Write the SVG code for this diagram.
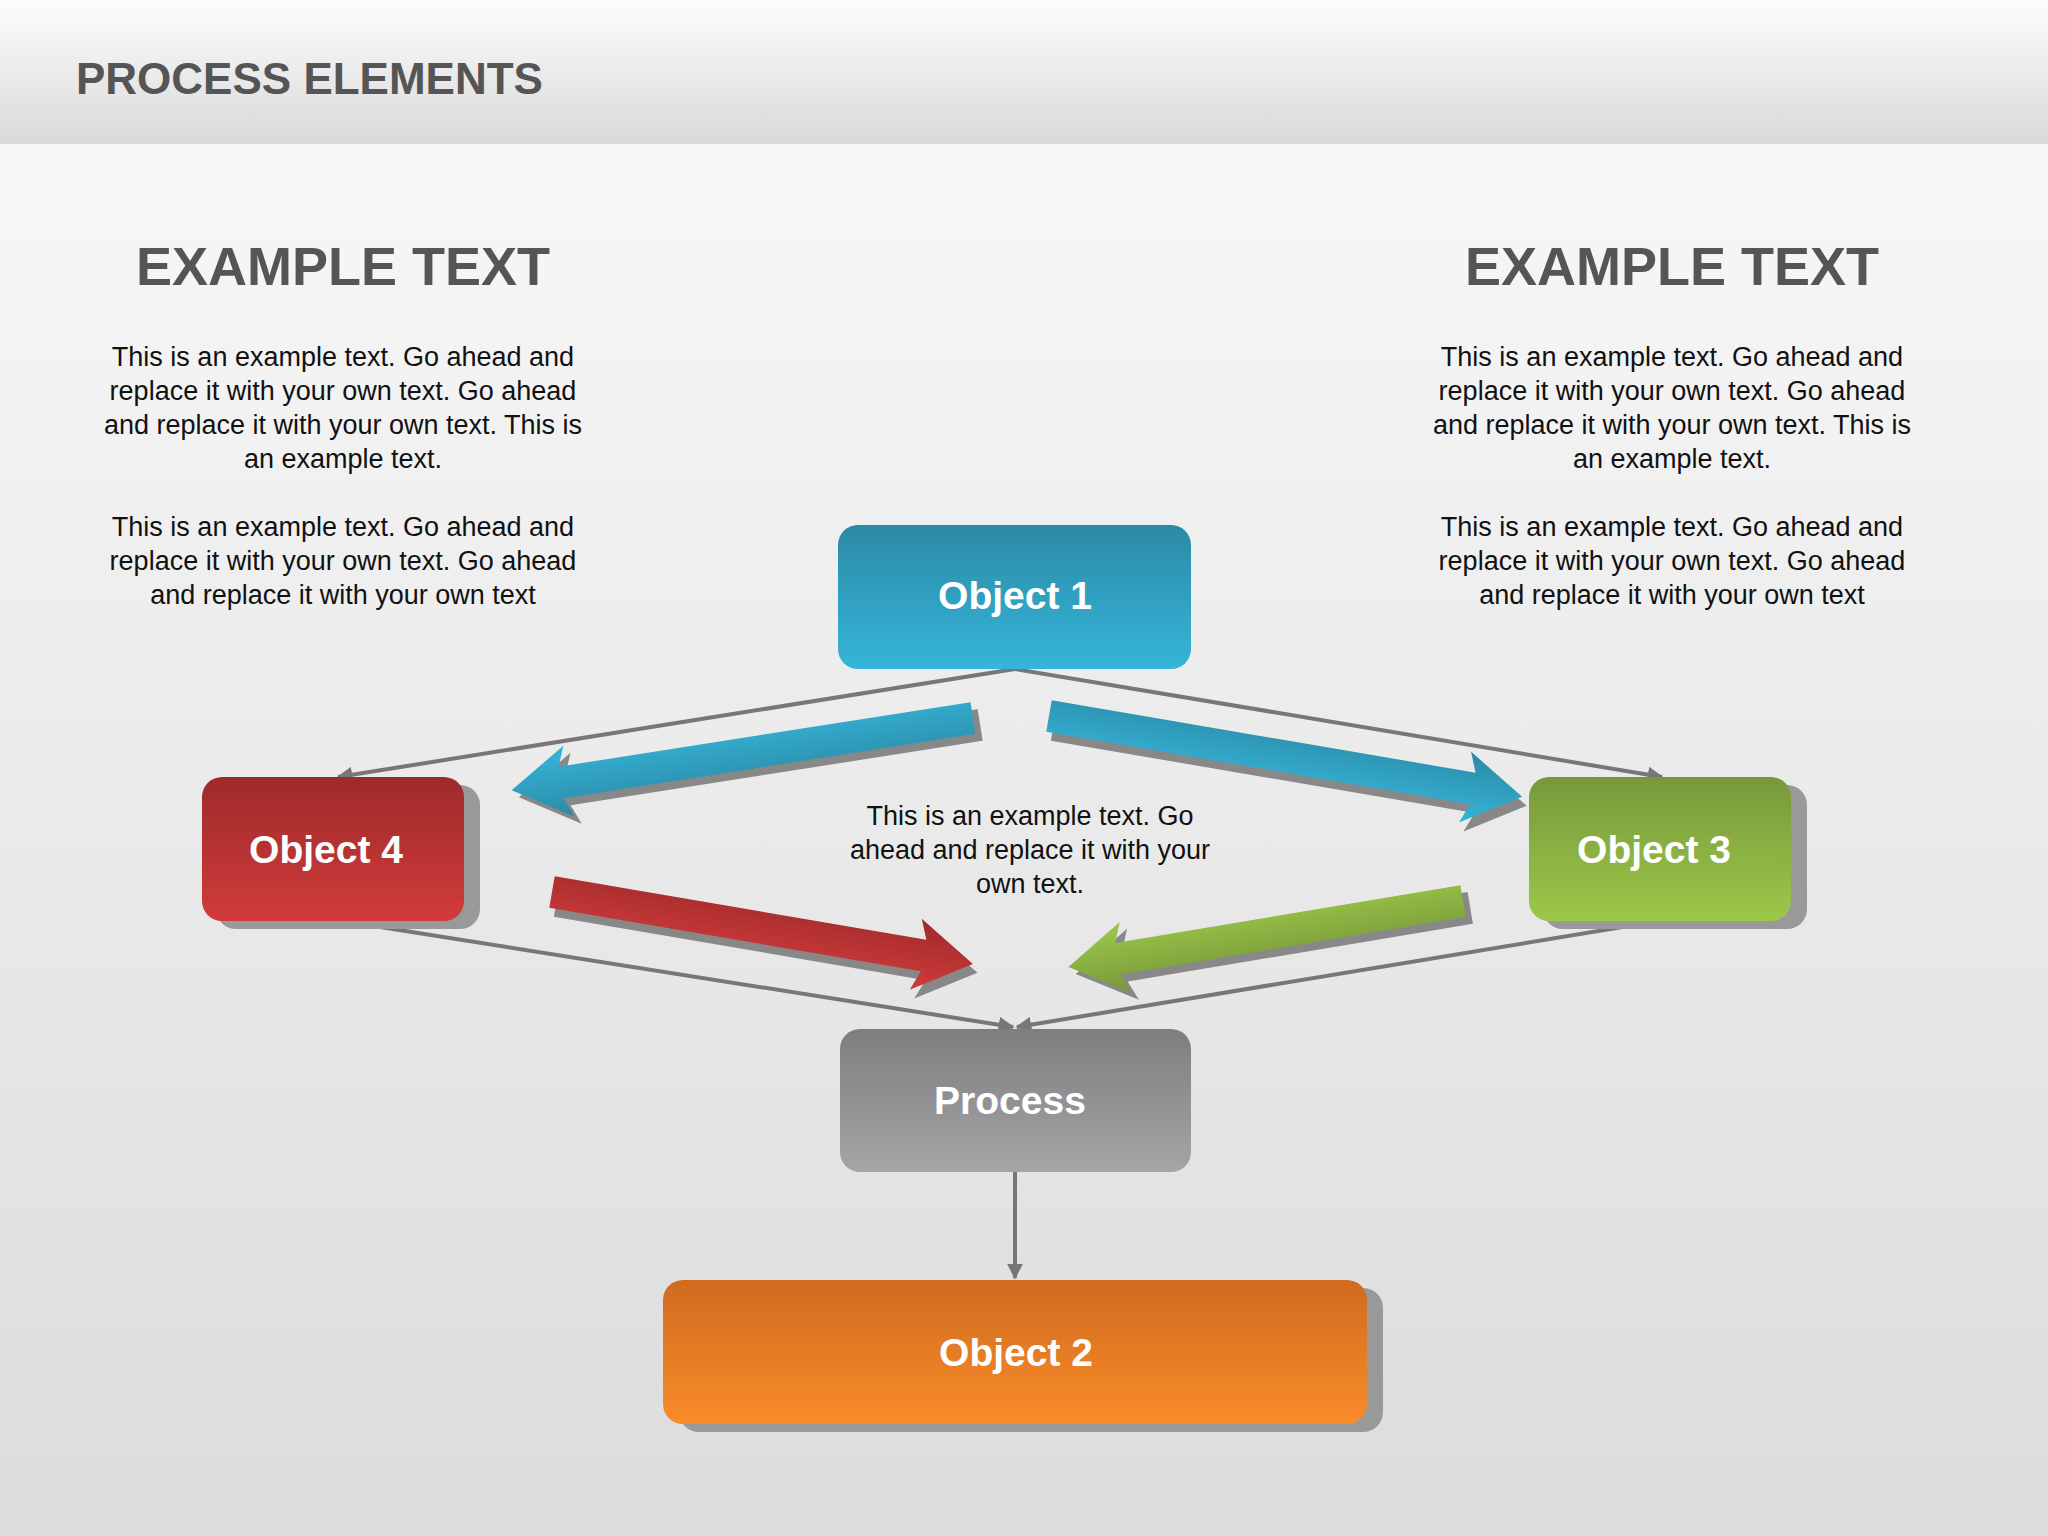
<svg xmlns="http://www.w3.org/2000/svg" width="2048" height="1536" viewBox="0 0 2048 1536">
<style>
.h{font-family:"Liberation Sans",Arial,sans-serif;font-weight:bold;fill:#555}
.b{font-family:"Liberation Sans",Arial,sans-serif;font-size:27px;fill:#111;text-anchor:middle}
.n{font-family:"Liberation Sans",Arial,sans-serif;font-weight:bold;font-size:39px;fill:#fff;text-anchor:middle}
.c{stroke:#777;stroke-width:4;fill:none;marker-end:url(#ah)}
</style>
<defs>
<linearGradient id="bg" x1="0" y1="0" x2="0" y2="1"><stop offset="0" stop-color="#fafafa"/><stop offset="1" stop-color="#dcdcdd"/></linearGradient>
<linearGradient id="hd" x1="0" y1="0" x2="0" y2="1"><stop offset="0" stop-color="#fdfdfd"/><stop offset="1" stop-color="#d9d9d9"/></linearGradient>
<linearGradient id="gb" x1="0" y1="0" x2="0" y2="1"><stop offset="0" stop-color="#2b8aa6"/><stop offset="1" stop-color="#36b5da"/></linearGradient>
<linearGradient id="gr" x1="0" y1="0" x2="0" y2="1"><stop offset="0" stop-color="#9e2a2b"/><stop offset="1" stop-color="#d13b3a"/></linearGradient>
<linearGradient id="gg" x1="0" y1="0" x2="0" y2="1"><stop offset="0" stop-color="#77983a"/><stop offset="1" stop-color="#9dc84a"/></linearGradient>
<linearGradient id="gp" x1="0" y1="0" x2="0" y2="1"><stop offset="0" stop-color="#7e7e80"/><stop offset="1" stop-color="#a5a5a8"/></linearGradient>
<linearGradient id="go" x1="0" y1="0" x2="0" y2="1"><stop offset="0" stop-color="#d06b1f"/><stop offset="1" stop-color="#f98c2a"/></linearGradient>
<marker id="ah" viewBox="0 0 10 10" refX="9" refY="5" markerWidth="4" markerHeight="4" orient="auto"><path d="M0,0 L10,5 L0,10 Z" fill="#777"/></marker>
</defs>
<rect width="2048" height="1536" fill="url(#bg)"/>
<rect width="2048" height="144" fill="url(#hd)"/>
<text class="h" x="76" y="94" font-size="44">PROCESS ELEMENTS</text>
<g id="left-text">
<text class="h" x="343" y="285" font-size="54" text-anchor="middle">EXAMPLE TEXT</text>
<text class="b"><tspan x="343" y="366">This is an example text. Go ahead and</tspan><tspan x="343" y="400">replace it with your own text. Go ahead</tspan><tspan x="343" y="434">and replace it with your own text. This is</tspan><tspan x="343" y="468">an example text.</tspan><tspan x="343" y="536">This is an example text. Go ahead and</tspan><tspan x="343" y="570">replace it with your own text. Go ahead</tspan><tspan x="343" y="604">and replace it with your own text</tspan></text>
</g>
<g id="right-text">
<text class="h" x="1672" y="285" font-size="54" text-anchor="middle">EXAMPLE TEXT</text>
<text class="b"><tspan x="1672" y="366">This is an example text. Go ahead and</tspan><tspan x="1672" y="400">replace it with your own text. Go ahead</tspan><tspan x="1672" y="434">and replace it with your own text. This is</tspan><tspan x="1672" y="468">an example text.</tspan><tspan x="1672" y="536">This is an example text. Go ahead and</tspan><tspan x="1672" y="570">replace it with your own text. Go ahead</tspan><tspan x="1672" y="604">and replace it with your own text</tspan></text>
</g>
<g id="connectors">
<path class="c" d="M1015,669 L338,777"/>
<path class="c" d="M1015,669 L1662,777"/>
<path class="c" d="M342,921 L1013,1027"/>
<path class="c" d="M1659,921 L1017,1027"/>
<path class="c" d="M1015,1172 L1015,1278"/>
</g>
<g id="block-arrows">
<g transform="translate(973,718) rotate(171.1)"><path d="M0,-16 L417,-16 L409,-36 L467,0 L409,36 L417,16 L0,16 Z" fill="#888" transform="translate(-6,-8)"/><path d="M0,-16 L417,-16 L409,-36 L467,0 L409,36 L417,16 L0,16 Z" fill="url(#gb)"/></g>
<g transform="translate(1049,716) rotate(9.7)"><path d="M0,-16 L430,-16 L422,-36 L480,0 L422,36 L430,16 L0,16 Z" fill="#888" transform="translate(6,8)"/><path d="M0,-16 L430,-16 L422,-36 L480,0 L422,36 L430,16 L0,16 Z" fill="url(#gb)"/></g>
<g transform="translate(552,892) rotate(9.7)"><path d="M0,-16 L377,-16 L369,-36 L427,0 L369,36 L377,16 L0,16 Z" fill="#888" transform="translate(6,8)"/><path d="M0,-16 L377,-16 L369,-36 L427,0 L369,36 L377,16 L0,16 Z" fill="url(#gr)"/></g>
<g transform="translate(1463,901) rotate(170.5)"><path d="M0,-16 L350,-16 L342,-36 L400,0 L342,36 L350,16 L0,16 Z" fill="#888" transform="translate(-6,-8)"/><path d="M0,-16 L350,-16 L342,-36 L400,0 L342,36 L350,16 L0,16 Z" fill="url(#gg)"/></g>
</g>
<text class="b"><tspan x="1030" y="825">This is an example text. Go</tspan><tspan x="1030" y="859">ahead and replace it with your</tspan><tspan x="1030" y="893">own text.</tspan></text>
<g id="object1"><rect x="838" y="525" width="353" height="144" rx="20" fill="url(#gb)"/><text class="n" x="1015" y="609">Object  1</text></g>
<g id="object4"><rect x="216" y="785" width="264" height="144" rx="20" fill="#999"/><rect x="202" y="777" width="262" height="144" rx="20" fill="url(#gr)"/><text class="n" x="326" y="863">Object  4</text></g>
<g id="object3"><rect x="1543" y="785" width="264" height="144" rx="20" fill="#999"/><rect x="1529" y="777" width="262" height="144" rx="20" fill="url(#gg)"/><text class="n" x="1654" y="863">Object  3</text></g>
<g id="process"><rect x="840" y="1029" width="351" height="143" rx="20" fill="url(#gp)"/><text class="n" x="1010" y="1114">Process</text></g>
<g id="object2"><rect x="679" y="1288" width="704" height="144" rx="20" fill="#999"/><rect x="663" y="1280" width="704" height="144" rx="20" fill="url(#go)"/><text class="n" x="1016" y="1366">Object  2</text></g>
</svg>
